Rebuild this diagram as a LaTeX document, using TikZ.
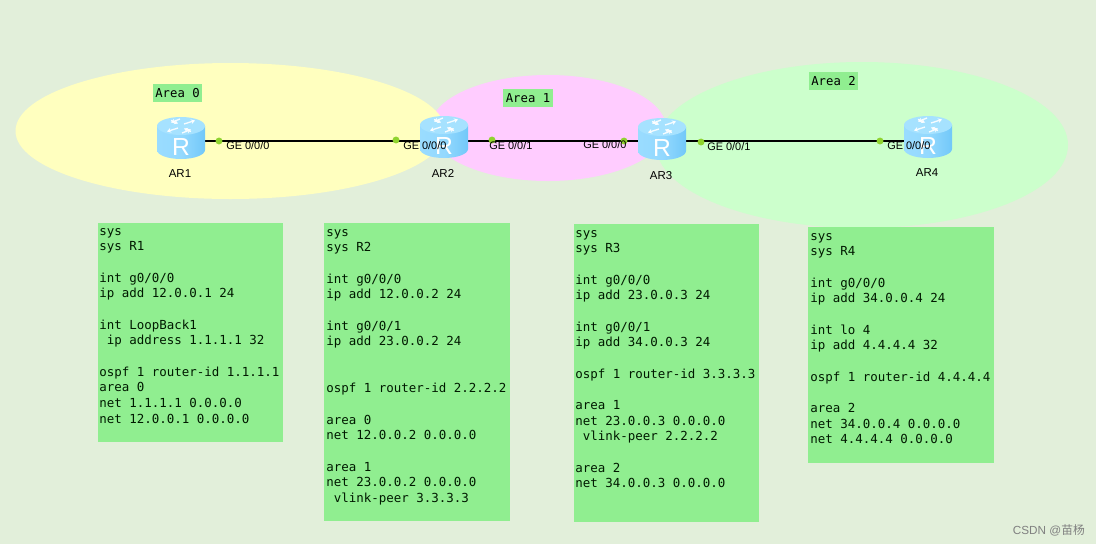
\documentclass[tikz,border=0pt]{standalone}
\usepackage{fontspec}
\setmainfont{Liberation Sans}
\newfontfamily\cfgfont{DejaVu Sans Mono}
\newfontfamily\cjkfont{Noto Sans CJK SC}
\usetikzlibrary{arrows.meta}
\definecolor{bgc}{HTML}{E2EFDA}
\definecolor{boxc}{HTML}{90EE90}
\definecolor{yel}{HTML}{FFFFBF}
\definecolor{pnk}{HTML}{FFCCFF}
\definecolor{grn}{HTML}{CCFFCC}
\definecolor{dotc}{HTML}{8FD32E}
\definecolor{rtop}{HTML}{A6E2FF}
\definecolor{rbodyl}{HTML}{9ADCFF}
\definecolor{rbodyr}{HTML}{72C8F9}
\tikzset{
  cfgbox/.style={fill=boxc,draw=none,anchor=north west,inner sep=0pt,minimum height=#1},
  cfgtext/.style={anchor=north west,inner sep=0pt,align=left,font=\cfgfont\fontsize{9.35pt}{11.74pt}\selectfont,text=black!90!green},
  arealabel/.style={fill=boxc,inner sep=0pt,minimum width=37pt,minimum height=13.5pt,font=\cfgfont\fontsize{9.2pt}{11pt}\selectfont},
  link/.style={draw=black,line width=1.5pt},
  portdot/.style={circle,fill=dotc,draw=none,inner sep=0pt,minimum size=5.2pt},
  portlabel/.style={anchor=west,inner sep=0pt,font=\fontsize{8.2pt}{10pt}\selectfont},
  devlabel/.style={inner sep=0pt,font=\fontsize{8.6pt}{10pt}\selectfont},
  wing/.style={draw=white,line width=1pt,-{Stealth[length=3pt,width=3.6pt]},opacity=.9},
  pics/router/.style={code={
    \path[left color=rbodyl,right color=rbodyr,middle color=rbodyl!85!rbodyr]
      (-24,-12) -- (-24,12) arc[start angle=180,end angle=0,x radius=24,y radius=9] -- (24,-12) -- cycle;
    \path[fill=rtop] (0,-12) ellipse[x radius=24,y radius=9];
    \draw[wing] (-3,-10) -- (-14,-6.5);
    \draw[wing] (3,-14) -- (14,-17.5);
    \draw[wing] (-10,-17.5) -- (-3,-14.5);
    \draw[wing] (10,-6.5) -- (3,-9.5);
    \draw[wing] (-1,-19) -- (-10,-15.5);
    \draw[wing] (1,-5) -- (10,-8.5);
    \node[text=white,inner sep=0pt,font=\fontsize{18.5pt}{20pt}\selectfont] (-glyph) at (0,9.5) {R};
  }}
}
\begin{document}
\begin{tikzpicture}[x=0.75pt,y=-0.75pt]
\useasboundingbox (0,0) rectangle (1096,544);
\fill[bgc] (0,0) rectangle (1096,544);
% areas
\fill[pnk] (548,128) ellipse[x radius=118,y radius=53];
\fill[grn] (862,145) ellipse[x radius=206,y radius=83];
\fill[yel] (230.5,131) ellipse[x radius=215,y radius=68];
\node[arealabel] (a0) at (177.5,93) {Area 0};
\node[arealabel] (a1) at (528,98) {Area 1};
\node[arealabel] (a2) at (833.5,81) {Area 2};
% links run between the router hubs
\coordinate (h1) at (181,141);
\coordinate (h2) at (444,141);
\coordinate (h3) at (662,141);
\coordinate (h4) at (928,141);
\draw[link] (h1) -- (h2);
\draw[link] (h2) -- (h3);
\draw[link] (h3) -- (h4);
\pic (r1) at (181,138) {router};
\pic (r2) at (444,137) {router};
\pic (r3) at (662,139) {router};
\pic (r4) at (928,137) {router};
\node[portdot] (d1) at (219,141) {};
\node[portdot] (d2) at (396,140) {};
\node[portdot] (d3) at (492,140) {};
\node[portdot] (d4) at (624,141) {};
\node[portdot] (d5) at (701,142) {};
\node[portdot] (d6) at (880,141) {};
\node[portlabel] (p1) at (226,146) {GE 0/0/0};
\node[portlabel] (p2) at (403,146) {GE 0/0/0};
\node[portlabel] (p3) at (489,146) {GE 0/0/1};
\node[portlabel] (p4) at (583,145) {GE 0/0/0};
\node[portlabel] (p5) at (707,147) {GE 0/0/1};
\node[portlabel] (p6) at (887,146) {GE 0/0/0};
\node[devlabel] (l1) at (180,174) {AR1};
\node[devlabel] (l2) at (443,173) {AR2};
\node[devlabel] (l3) at (661,176) {AR3};
\node[devlabel] (l4) at (927,173) {AR4};
% config boxes
\node[cfgbox=164.25pt,minimum width=138.75pt] (b1) at (98,223) {};
\node[cfgbox=223.5pt,minimum width=139.5pt] (b2) at (324,223) {};
\node[cfgbox=223.5pt,minimum width=138.75pt] (b3) at (574,224) {};
\node[cfgbox=177pt,minimum width=139.5pt] (b4) at (808,227) {};
\node[cfgtext] (t1) at (99,224) {\strut sys\\sys R1\\ \\int g0/0/0\\ip add 12.0.0.1 24\\ \\int LoopBack1\\~ip address 1.1.1.1 32\\ \\ospf 1 router-id 1.1.1.1\\area 0\\net 1.1.1.1 0.0.0.0\\net 12.0.0.1 0.0.0.0};
\node[cfgtext] (t2) at (326,225) {\strut sys\\sys R2\\ \\int g0/0/0\\ip add 12.0.0.2 24\\ \\int g0/0/1\\ip add 23.0.0.2 24\\ \\ \\ospf 1 router-id 2.2.2.2\\ \\area 0\\net 12.0.0.2 0.0.0.0\\ \\area 1\\net 23.0.0.2 0.0.0.0\\~vlink-peer 3.3.3.3};
\node[cfgtext] (t3) at (575,226) {\strut sys\\sys R3\\ \\int g0/0/0\\ip add 23.0.0.3 24\\ \\int g0/0/1\\ip add 34.0.0.3 24\\ \\ospf 1 router-id 3.3.3.3\\ \\area 1\\net 23.0.0.3 0.0.0.0\\~vlink-peer 2.2.2.2\\ \\area 2\\net 34.0.0.3 0.0.0.0};
\node[cfgtext] (t4) at (810,229) {\strut sys\\sys R4\\ \\int g0/0/0\\ip add 34.0.0.4 24\\ \\int lo 4\\ip add 4.4.4.4 32\\ \\ospf 1 router-id 4.4.4.4\\ \\area 2\\net 34.0.0.4 0.0.0.0\\net 4.4.4.4 0.0.0.0};
\node[anchor=east,inner sep=0pt,text=black!50,font=\fontsize{8.8pt}{10pt}\selectfont] (wm) at (1085,530) {CSDN @{\cjkfont 苗杨}};
\end{tikzpicture}
\end{document}
